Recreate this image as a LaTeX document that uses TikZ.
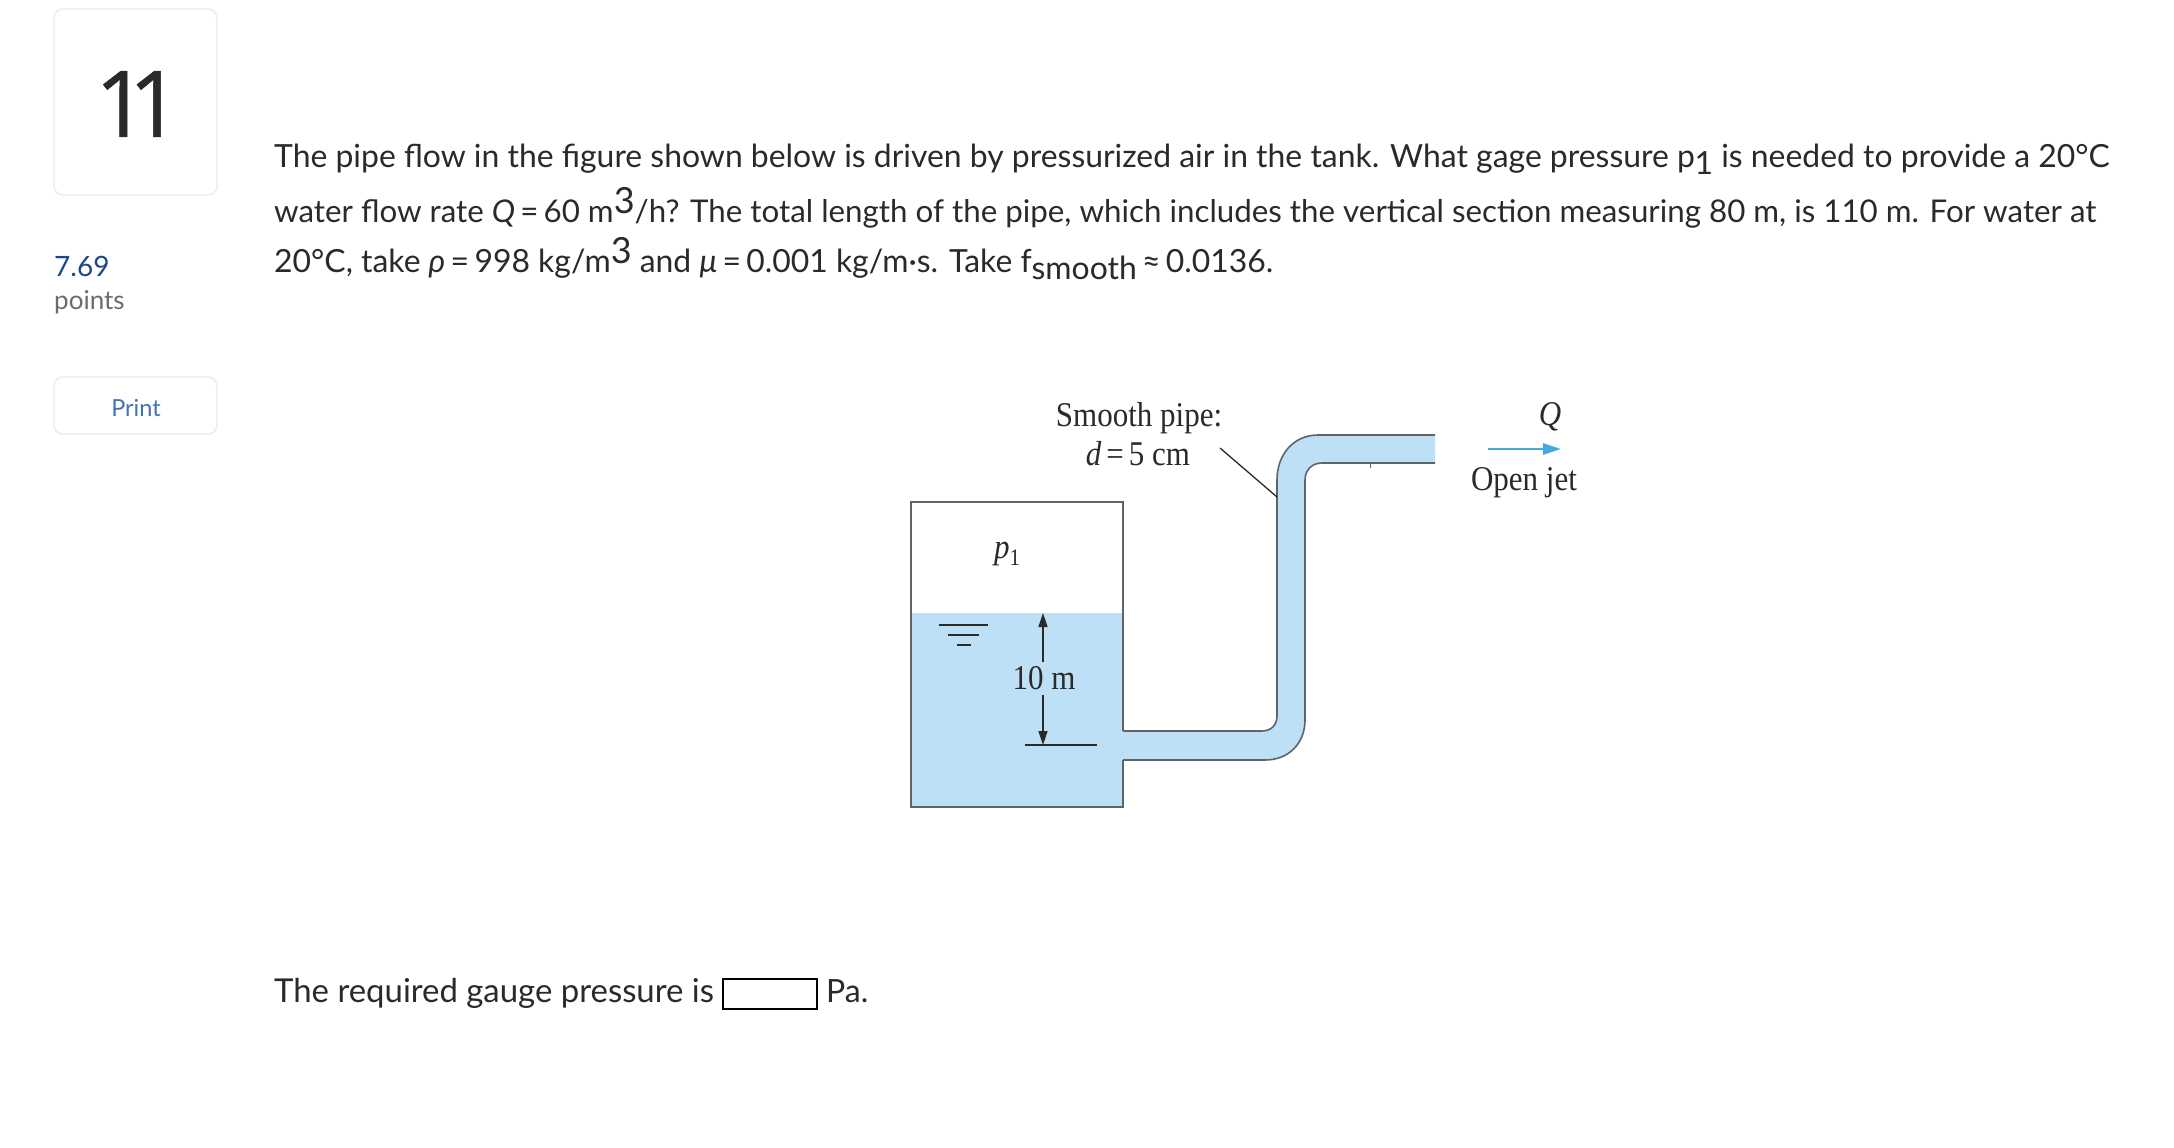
\documentclass[tikz,border=0pt]{standalone}
\usepackage{fontspec}
\setmainfont{Lato}
\newfontfamily\figfont{Liberation Serif}
\newfontfamily\numfont[FakeBold=0.6]{Open Sans}
\usetikzlibrary{arrows.meta}
\definecolor{water}{HTML}{BEE0F6}
\definecolor{wall}{HTML}{5F6468}
\definecolor{ink}{HTML}{2A2A2A}
\definecolor{cardline}{HTML}{EBEBEB}
\definecolor{pointblue}{HTML}{1E4785}
\definecolor{printblue}{HTML}{4472B5}
\definecolor{pointgrey}{HTML}{6B6B6B}
\definecolor{flowblue}{HTML}{45A8E0}
\newcommand{\hisup}{\raisebox{9pt}{\fontsize{36}{36}\selectfont 3}}
\newcommand{\losub}[1]{\raisebox{-7pt}{\fontsize{31.9}{32}\selectfont #1}}
\newcommand{\tall}[1]{\scalebox{1}[1.12]{#1}}
\tikzset{
  body/.style={anchor=base west,inner sep=0pt,text=ink},
  fig/.style={inner sep=0pt,text=ink,font=\figfont\fontsize{31}{36}\selectfont},
  card/.style={draw=cardline,line width=1.4pt,rounded corners=9pt,fill=white},
  wallline/.style={draw=wall,line width=1.6pt},
  dim/.style={draw=ink,line width=1.6pt},
  dimtip/.style={-{Triangle[length=14pt,width=9pt]}}
}
\begin{document}
\begin{tikzpicture}[x=1pt,y=-1pt]
\useasboundingbox (0,0) rectangle (2174,1148);
\fill[white] (0,0) rectangle (2174,1148);
% left column
\draw[card] (54,9) rectangle (217,195);
\node[inner sep=0pt,text=ink] (num) at (138,104) {\numfont\fontsize{92}{92}\selectfont 1\kern-19pt 1};
\node[anchor=base west,inner sep=0pt,text=pointblue] (pts) at (54,276) {\fontsize{28}{30}\selectfont 7.69};
\node[anchor=base west,inner sep=0pt,text=pointgrey] (ptl) at (54,309) {\fontsize{26}{30}\selectfont points};
\draw[card] (54,377) rectangle (217,434);
\node[inner sep=0pt,text=printblue] (prt) at (136,408) {\fontsize{23.5}{30}\selectfont Print};
% problem statement
\node[body,font=\fontsize{31.9}{36}\selectfont] (l1) at (274,167) {The pipe flow in the figure shown below is driven by pressurized air in the tank. What gage pressure p\losub{1} is needed to provide a 20°C};
\node[body,font=\fontsize{31.3}{36}\selectfont] (l2) at (274,222) {water flow rate \textit{Q}\,=\,60 m\hisup/h? The total length of the pipe, which includes the vertical section measuring 80 m, is 110 m. For water at};
\node[body,font=\fontsize{31.9}{36}\selectfont] (l3) at (274,272) {20°C, take \textit{ρ}\,=\,998 kg/m\hisup\ and \textit{μ}\,=\,0.001 kg/m·s. Take f\losub{smooth}\,≈\,0.0136.};
\node[body,font=\fontsize{32.9}{36}\selectfont] (l4) at (274,1002) {The required gauge pressure is};
\node[draw=black,line width=2pt,minimum width=94pt,minimum height=30pt,inner sep=0pt] (ans) at (769.5,994) {};
\node[body,font=\fontsize{32}{36}\selectfont] (l5) at (826,1002) {Pa.};
% water
\fill[water] (911,613) -- (1123,613) -- (1123,731) -- (1262,731)
  .. controls (1271,731) and (1277,725) .. (1277,716) -- (1277,480)
  .. controls (1277,454) and (1294,435) .. (1318,435) -- (1435,435) -- (1435,463) -- (1322,463)
  .. controls (1312,463) and (1305,470) .. (1305,480) -- (1305,720)
  .. controls (1305,743) and (1289,760) .. (1265,760) -- (1123,760) -- (1123,807) -- (911,807) -- cycle;
% tank and pipe walls
\draw[wallline] (1123,731) -- (1262,731)
  .. controls (1271,731) and (1277,725) .. (1277,716) -- (1277,480)
  .. controls (1277,454) and (1294,435) .. (1318,435) -- (1435,435);
\draw[wallline] (1123,760) -- (1265,760)
  .. controls (1289,760) and (1305,743) .. (1305,720) -- (1305,480)
  .. controls (1305,470) and (1312,463) .. (1322,463) -- (1435,463);
\draw[wallline] (1123,731) -- (1123,502) -- (911,502) -- (911,807) -- (1123,807) -- (1123,760);
\draw[draw=wall,line width=1pt] (1370,463) -- (1370,468);
% free surface symbol
\draw[dim] (939,625) -- (988,625);
\draw[dim] (948,635) -- (979,635);
\draw[dim] (957,645) -- (971,645);
% labels
\node[fig] (p1) at (1007,554) {\tall{\textit{p}\raisebox{-6pt}{\fontsize{21}{22}\selectfont 1}}};
\node[fig] (ten) at (1044,678) {\tall{10 m}};
\coordinate (lvl) at (1043,613);
\coordinate (base) at (1043,745);
\coordinate (tena) at (1043,662);
\coordinate (tenb) at (1043,695);
\coordinate (bl) at (1025,745);
\coordinate (br) at (1097,745);
\draw[dim,dimtip] (tena) -- (lvl);
\draw[dim,dimtip] (tenb) -- (base);
\draw[dim] (bl) -- (br);
\node[fig] (sp) at (1139,418) {\tall{Smooth pipe:}};
\node[fig] (dd) at (1138,454) {\tall{\textit{d}\kern5pt=\kern5pt5 cm}};
\coordinate (wallpt) at (1277,497);
\coordinate (lead) at (1220,448);
\draw[draw=ink,line width=1.3pt] (lead) -- (wallpt);
\node[fig] (q) at (1550,417) {\tall{\textit{Q}}};
\coordinate (qa) at (1488,449);
\coordinate (qb) at (1561,449);
\draw[draw=flowblue,line width=2.8pt,-{Triangle[length=18pt,width=11pt]}] (qa) -- (qb);
\node[fig] (oj) at (1524,483) {\tall{Open jet}};
\end{tikzpicture}
\end{document}
